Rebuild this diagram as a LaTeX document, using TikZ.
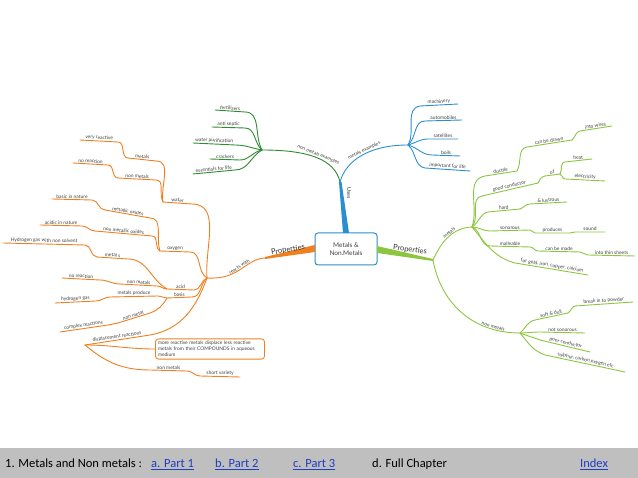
\documentclass[tikz,border=0pt]{standalone}
\usepackage{fontspec}
\setmainfont{Lato}
\newfontfamily\barfont{Carlito}
\definecolor{oc}{HTML}{F07F1E}
\definecolor{dg}{HTML}{2E8B2E}
\definecolor{bc}{HTML}{2A8FD0}
\definecolor{lg}{HTML}{8CC63F}
\definecolor{linkc}{HTML}{1F3FBF}
\tikzset{
  lab/.style={font=\fontsize{4.9}{5.5}\selectfont, text=black!75, inner sep=0.6pt, above, sloped},
  br/.style={line width=0.9pt, line cap=round}
}
\newcommand{\lbr}[5][out=0,in=180]{\draw[br] (#2) -- node[lab]{#5} (#3) to[#1] (#4);}
\newcommand{\rbr}[5][out=0,in=180]{\draw[br] (#2) to[#1] (#3) -- node[lab]{#5} (#4);}
\begin{document}
\begin{tikzpicture}[x=1pt,y=1pt]
\useasboundingbox (0,0) rectangle (638,-478);
% central
\node[draw=bc, line width=1pt, rounded corners=3pt, fill=white, minimum width=62pt, minimum height=32pt, align=center, font=\fontsize{6.5}{8}\selectfont, text=black!75] (c) at (346,-249) {Metals \&\\Non.Metals};
% ===== orange
\coordinate (J) at (207,-278);
\fill[oc] (315,-245) -- (315,-252) -- (265,-259) -- (265,-257) -- cycle;
\node[font=\fontsize{7.5}{8}\selectfont, text=black!80, rotate=9] (pl) at (288,-250) {Properties};
\begin{scope}[oc]
\draw[br] (J) .. controls (240,-280) and (245,-259) .. node[lab,pos=0.5]{reacts with} (265,-258);
\coordinate (W) at (163,-202);
\lbr[out=0,in=95]{W}{192,-204}{J}{water}
\coordinate (Wm) at (128,-158);
\lbr[out=0,in=100]{Wm}{156,-161}{W}{metals}
\lbr{80,-140}{118,-142}{Wm}{very reactive}
\coordinate (Wn) at (118,-178);
\lbr[out=0,in=120]{Wn}{156,-180}{W}{non metals}
\lbr{73,-163}{108,-165}{Wn}{no reaction}
\coordinate (O) at (160,-251);
\lbr[out=0,in=150]{O}{190,-252}{J}{oxygen}
\coordinate (Om) at (105,-210);
\lbr[out=0,in=110]{Om}{150,-218}{O}{metallic oxides}
\lbr{52,-199}{92,-200}{Om}{basic in nature}
\coordinate (On) at (95,-231);
\lbr[out=0,in=150]{On}{152,-236}{O}{non metallic oxides}
\lbr{40,-225}{82,-226}{On}{acidic in nature}
\coordinate (A) at (167,-289);
\lbr[out=0,in=200]{A}{194,-290}{J}{acid}
\coordinate (Am) at (97,-257);
\lbr[out=0,in=150]{Am}{128,-259}{A}{metal s}
\lbr{3,-243}{85,-245}{Am}{Hydrogen gas with non solvent}
\coordinate (An) at (120,-284);
\lbr{An}{157,-286}{A}{non metals}
\lbr{62,-278}{100,-280}{An}{no reaction}
\coordinate (B) at (167,-298);
\lbr[out=0,in=220]{B}{192,-297}{J}{basis}
\coordinate (Bm) at (110,-297);
\lbr{Bm}{158,-296}{B}{metals produce}
\lbr{55,-303}{96,-301}{Bm}{hydrogen gas}
\coordinate (Bn) at (118,-323);
\lbr[out=20,in=240]{Bn}{150,-313}{B}{non metal}
\lbr{60,-332}{108,-325}{Bn}{complex reactions}
\coordinate (D) at (85,-345);
\lbr[out=10,in=250]{D}{150,-335}{J}{displacement reactions}
\node[draw=oc, line width=0.8pt, rounded corners=3pt, text width=104pt, align=left, inner sep=2.5pt, font=\fontsize{4.9}{5.8}\selectfont, text=black!75] (box) at (210,-349) {more reactive metals displace less reactive metals from their COMPOUNDS in aqueous medium};
\draw[br] (D) to[out=0,in=180] (box.west);
\coordinate (Dn) at (187,-371);
\rbr[out=-40,in=180]{D}{150,-370}{Dn}{non metals}
\rbr{Dn}{200,-376}{240,-377}{short variety}
\end{scope}
% ===== uses
\coordinate (U) at (340,-182);
\fill[bc] (343,-233) -- (349,-233) -- (341.5,-182) -- (339,-182) -- cycle;
\node[font=\fontsize{5.5}{6}\selectfont, text=black!75, rotate=-90] (uses) at (349,-193) {Uses};
\begin{scope}[dg]
\coordinate (NE) at (262,-150);
\draw[br] (U) .. controls (335,-160) and (310,-150) .. node[lab,pos=0.5]{non metals examples} (NE);
\lbr[out=0,in=120]{215,-110}{245,-112}{NE}{fertilizers}
\lbr[out=0,in=140]{212,-127}{245,-128}{NE}{anti septic}
\lbr[out=0,in=170]{193,-143}{235,-145}{NE}{water purification}
\lbr[out=0,in=190]{210,-159}{240,-160}{NE}{crackers}
\lbr[out=0,in=210]{193,-174}{235,-170}{NE}{essentials for life}
\end{scope}
\begin{scope}[bc]
\coordinate (ME) at (408,-145);
\draw[br] (U) .. controls (346,-160) and (370,-145) .. node[lab,pos=0.55]{metals examples} (ME);
\rbr[out=60,in=190]{ME}{420,-106}{458,-104}{machinery}
\rbr[out=40,in=180]{ME}{425,-121}{462,-120}{automobiles}
\rbr[out=15,in=180]{ME}{428,-139}{458,-139}{satellites}
\rbr[out=-15,in=180]{ME}{432,-155}{460,-156}{boils}
\rbr[out=-40,in=170]{ME}{425,-168}{470,-171}{important for life}
\end{scope}
% ===== light green
\coordinate (G) at (433,-260);
\fill[lg] (377,-246) -- (377,-253) -- (433,-261) -- (433,-259) -- cycle;
\node[font=\fontsize{7.5}{8}\selectfont, text=black!80, rotate=-8] (pr) at (410,-250) {Properties};
\begin{scope}[lg]
\coordinate (M) at (472,-227);
\draw[br] (G) .. controls (440,-245) and (450,-228) .. node[lab,pos=0.6]{metals} (M);
\coordinate (Md) at (517,-171);
\rbr[out=70,in=190]{M}{485,-176}{Md}{ductile}
\coordinate (Mc) at (572,-140);
\rbr[out=60,in=190]{Md}{527,-147}{Mc}{can be drawn}
\rbr[out=40,in=190]{Mc}{580,-131}{612,-126}{into wires}
\coordinate (Mg) at (538,-183);
\rbr[out=50,in=190]{M}{482,-196}{Mg}{good conductor}
\coordinate (Mo) at (560,-174);
\rbr[out=60,in=190]{Mg}{545,-176}{Mo}{of}
\rbr[out=60,in=180]{Mo}{565,-162}{592,-159}{heat}
\rbr[out=-20,in=180]{Mo}{565,-179}{605,-181}{electricity}
\coordinate (Mh) at (520,-209);
\rbr[out=30,in=190]{M}{488,-212}{Mh}{hard}
\rbr[out=20,in=180]{Mh}{530,-204}{567,-202}{\& lustrous}
\coordinate (Ms) at (530,-230);
\rbr{M}{490,-231}{Ms}{sonorous}
\coordinate (Mp) at (570,-233);
\rbr{Ms}{535,-233}{Mp}{produces}
\rbr{Mp}{575,-232}{605,-232}{sound}
\coordinate (Mm) at (530,-247);
\rbr[out=-20,in=180]{M}{490,-246}{Mm}{malleable}
\coordinate (Mk) at (580,-252);
\rbr{Mm}{538,-251}{Mk}{can be made}
\rbr{Mk}{588,-255}{635,-256}{into thin sheets}
\rbr[out=-50,in=165]{M}{515,-263}{588,-275}{for gold, iron, copper, calcium}
\coordinate (N) at (520,-333);
\draw[br] (G) .. controls (440,-300) and (470,-333) .. node[lab,pos=0.8]{non metals} (N);
\coordinate (Ns) at (568,-313);
\rbr[out=40,in=190]{N}{535,-320}{Ns}{soft \& dull}
\rbr[out=30,in=190]{Ns}{575,-306}{633,-302}{break in to powder}
\rbr{N}{540,-332}{585,-333}{not sonorous}
\rbr[out=-20,in=160]{N}{540,-340}{590,-352}{poor conductor}
\rbr[out=-50,in=160]{N}{545,-355}{625,-372}{sulphur, carbon,oxygen etc}
\end{scope}
% ===== bottom bar
\fill[black!25] (0,-448) rectangle (638,-478);
\begin{scope}[font=\barfont\fontsize{12.5}{14}\selectfont, inner sep=0pt, anchor=base west]
\node (t1) at (5,-468) {1. Metals and Non metals :};
\node[text=linkc] (t2) at (151,-468) {\underline{a. Part 1}};
\node[text=linkc] (t3) at (215,-468) {\underline{b. Part 2}};
\node[text=linkc] (t4) at (293,-468) {\underline{c. Part 3}};
\node (t5) at (372,-468) {d. Full Chapter};
\node[text=linkc] (t6) at (580,-468) {\underline{Index}};
\end{scope}
\end{tikzpicture}
\end{document}
